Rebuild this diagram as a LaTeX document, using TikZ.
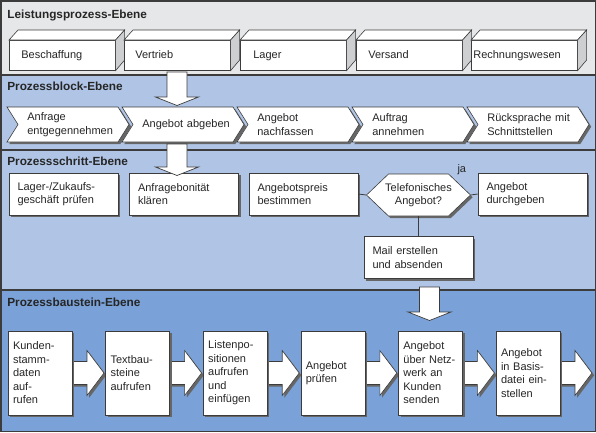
\documentclass[tikz,border=0pt]{standalone}
\usepackage{fontspec}
\setmainfont{Liberation Sans}
\usetikzlibrary{positioning, calc, shadows}

\definecolor{bandgrey}{RGB}{230,231,232}
\definecolor{bandlight}{RGB}{176,197,230}
\definecolor{banddark}{RGB}{122,162,216}
\definecolor{edge}{RGB}{60,60,60}
\definecolor{sidegrey}{RGB}{205,207,209}

\tikzset{
  boxfont/.style={font=\fontsize{11}{13.5}\selectfont, text=black!85},
  leveltitle/.style={font=\fontsize{11.8}{14}\selectfont\bfseries, text=black!85, anchor=base west, inner sep=0pt},
  shade/.style={drop shadow={shadow xshift=2.2pt, shadow yshift=-2.2pt, fill=black!60, opacity=1}},
  cubebox/.style={boxfont, draw=edge, fill=white, minimum width=106pt, minimum height=30pt, align=left, text height=8pt, text depth=2.4pt, anchor=north west},
  chevron/.style={draw=edge, fill=white, shade},
  chevrontext/.style={boxfont, anchor=west, text width=92pt, align=left, inner sep=0pt},
  stepbox/.style={boxfont, draw=edge, fill=white, shade, minimum width=109pt, minimum height=42pt, text width=92pt, inner xsep=8.5pt, align=left},
  blockbox/.style={boxfont, draw=edge, fill=white, shade, minimum width=64pt, minimum height=84pt, text width=54pt, inner xsep=5pt, align=left},
  flowarrow/.style={draw=edge, fill=white, shade},
  levelarrow/.style={draw=edge, fill=white, line width=0.7pt},
  connector/.style={draw=edge, line width=0.8pt},
  separator/.style={draw=edge, line width=1.6pt}
}

\begin{document}
\begin{tikzpicture}[x=1pt, y=-1pt, line width=0.6pt]
    \useasboundingbox (0,0) rectangle (596,432);

    % Level bands
    \fill[bandgrey] (0,0) rectangle (596,75);
    \fill[bandlight] (0,75) rectangle (596,290);
    \fill[banddark] (0,290) rectangle (596,432);
    \draw[separator] (0,75) -- (596,75);
    \draw[separator] (0,150) -- (596,150);
    \draw[separator] (0,290) -- (596,290);

    % Level titles
    \node[leveltitle] (title1) at (7,18) {Leistungsprozess-Ebene};
    \node[leveltitle] (title2) at (7,90.5) {Prozessblock-Ebene};
    \node[leveltitle] (title3) at (7,165) {Prozessschritt-Ebene};
    \node[leveltitle] (title4) at (7,306.5) {Prozessbaustein-Ebene};

    % 3D boxes of the first level
    \foreach \x/\name/\txt/\pad in {9/beschaffung/Beschaffung/12, 124/vertrieb/Vertrieb/11, 240/lager/Lager/13, 356/versand/Versand/12, 471/rechnung/Rechnungswesen/2}{
        \pgfmathsetmacro{\tw}{106-2*\pad}
        \node[cubebox, inner xsep=\pad pt, text width=\tw pt] (\name) at (\x,40) {\txt};
        \filldraw[draw=edge, fill=white] (\name.north west) -- ++(9,-10) -- ($(\name.north east)+(9,-10)$) -- (\name.north east) -- cycle;
        \filldraw[draw=edge, fill=sidegrey] (\name.north east) -- ++(9,-10) -- ++(0,30) -- (\name.south east) -- cycle;
    }

    % Process blocks (chevrons)
    \foreach \i/\name/\txt in {0/anfrage/{Anfrage\\entgegennehmen}, 1/abgeben/{Angebot abgeben}, 2/nachfassen/{Angebot\\nachfassen}, 3/auftrag/{Auftrag\\annehmen}, 4/ruecksprache/{Rücksprache mit\\Schnittstellen}}{
        \coordinate (p\i) at (7+115*\i,124.5);
        \filldraw[chevron] (p\i) ++(0,-17.5) -- ++(111,0) -- ++(11,17.5) -- ++(-11,17.5) -- ++(-111,0) -- ++(11,-17.5) -- cycle;
        \node[chevrontext] (\name) at ($(p\i)+(20,0)$) {\txt};
    }

    % Process steps
    \node[stepbox] (lagerpruefen) at (63.5,194) {Lager-/Zukaufs-\\geschäft prüfen};
    \node[stepbox] (bonitaet) at (184,194) {Anfragebonität\\klären};
    \node[stepbox] (preis) at (303.5,194) {Angebotspreis\\bestimmen};
    \node[stepbox] (durchgeben) at (532.5,194) {Angebot\\durchgeben};
    \node[stepbox] (mail) at (418.5,257.5) {Mail erstellen\\und absenden};

    % Decision hexagon
    \coordinate (hexc) at (418.5,195);
    \filldraw[draw=edge, fill=white, shade] ($(hexc)+(-52,0)$) -- ($(hexc)+(-30,-21)$) -- ($(hexc)+(30,-21)$) -- ($(hexc)+(52,0)$) -- ($(hexc)+(30,21)$) -- ($(hexc)+(-30,21)$) -- cycle;
    \node[boxfont, align=center, minimum width=104pt, minimum height=42pt, inner sep=0pt] (hex) at (hexc) {Telefonisches\\Angebot?};

    \draw[connector] (preis.east) -- (hex.west);
    \draw[connector] (hex.east) -- (durchgeben.west);
    \draw[connector] (hex.south) -- (mail.north);
    \node[boxfont, inner sep=0pt] (ja) at ($(hex.east)+(-9,-25)$) {ja};

    % Process modules with arrows
    \foreach \i/\txt in {0/{Kunden-\\stamm-\\daten\\auf-\\rufen}, 1/{Textbau-\\steine\\aufrufen}, 2/{Listenpo-\\sitionen\\aufrufen\\und\\einfügen}, 3/{Angebot\\prüfen}, 4/{Angebot\\über Netz-\\werk an\\Kunden\\senden}, 5/{Angebot\\in Basis-\\datei ein-\\stellen}}{
        \coordinate (c\i) at (40+97.6*\i,373);
        \filldraw[flowarrow] ($(c\i)+(0,-11.5)$) -- ($(c\i)+(47,-11.5)$) -- ($(c\i)+(47,-22.5)$) -- ($(c\i)+(64,0)$) -- ($(c\i)+(47,22.5)$) -- ($(c\i)+(47,11.5)$) -- ($(c\i)+(0,11.5)$) -- cycle;
        \node[blockbox] (b\i) at (c\i) {\txt};
    }

    % Arrows between levels
    \foreach \x/\ya/\yb in {177/72/97, 177/144/167, 429.5/287/312}
        \filldraw[levelarrow] (\x-10,\ya) -- (\x+10,\ya) -- (\x+10,\yb) -- (\x+21.5,\yb) -- (\x,\yb+8.5) -- (\x-21.5,\yb) -- (\x-10,\yb) -- cycle;

    % Outer frame
    \draw[edge, line width=1.5pt] (0.75,0.75) rectangle (595.25,431.25);

\end{tikzpicture}
\end{document}
